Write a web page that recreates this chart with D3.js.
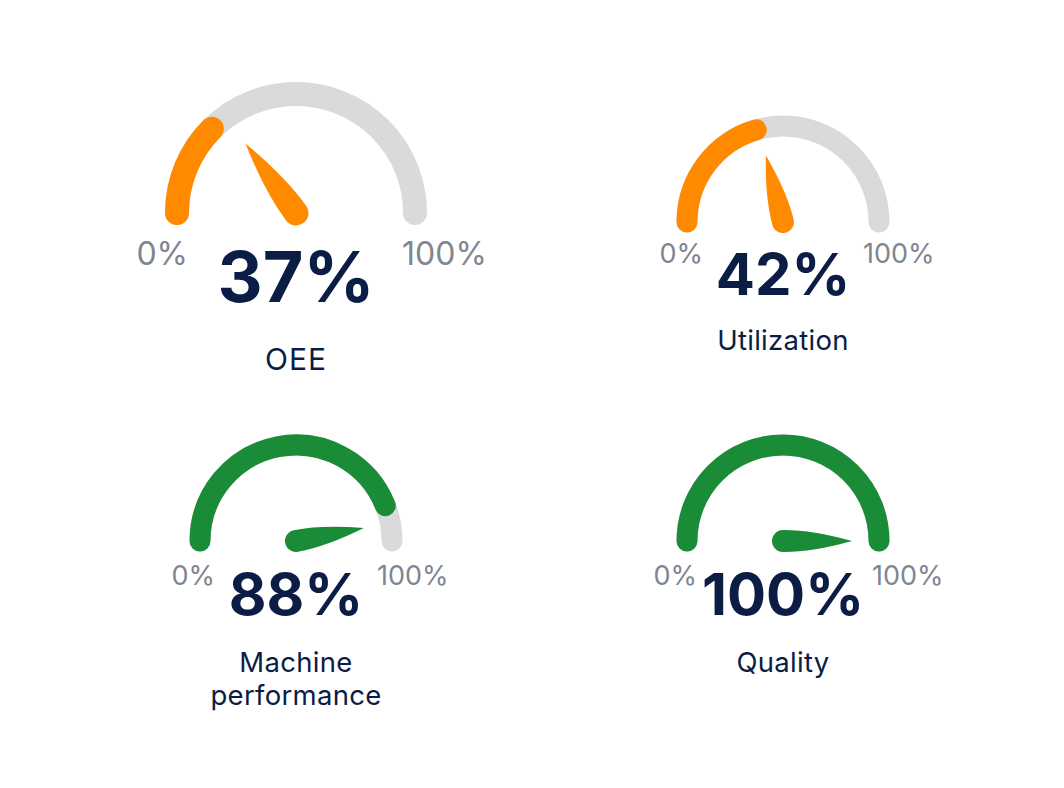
<!DOCTYPE html>
<html>
<head>
<meta charset="utf-8">
<script src="https://cdn.jsdelivr.net/npm/d3@7"></script>
<style>
  html, body { margin: 0; padding: 0; background: #ffffff; }
  svg { display: block; font-family: Inter, "Noto Sans", sans-serif; }
</style>
</head>
<body>
<svg id="chart" width="1064" height="788"></svg>
<script>
// ---- data ----
const titles = [["OEE"], ["Utilization"], ["Machine", "performance"], ["Quality"]];
const values = [37, 42, 88, 100];          // displayed value (%)
const fillValues = [25, 41, 88, 100];      // extent of the coloured arc as drawn (%)
const needleValues = [30, 42, 94, 100];    // needle position as drawn (%)
const minLabels = ["0%", "0%", "0%", "0%"];
const maxLabels = ["100%", "100%", "100%", "100%"];

// ---- layout / style (not data) ----
const layout = [
  { cx: 296, cy: 213, r: 119, sw: 24, nl: 86, nw: 12.5, vFont: 70, sFont: 32, tFont: 30, tLs: 1,
    sDy: 52, vDy: 89, tDy: 157, lOff: 108, rOff: 106, tLine: 33 },
  { cx: 783, cy: 222, r: 96, sw: 21, nl: 69, nw: 11, vFont: 58, sFont: 27, tFont: 27.5, tLs: 0.3,
    sDy: 41, vDy: 73, tDy: 128, lOff: 80, rOff: 80, tLine: 33 },
  { cx: 296, cy: 541, r: 96, sw: 21, nl: 69, nw: 11, vFont: 58, sFont: 27, tFont: 27.5, tLs: 0.3,
    sDy: 44, vDy: 74, tDy: 131, lOff: 81, rOff: 81, tLine: 33 },
  { cx: 783, cy: 541, r: 96, sw: 21, nl: 69, nw: 11, vFont: 58, sFont: 27, tFont: 27.5, tLs: 0.3,
    sDy: 44, vDy: 74, tDy: 131, lOff: 86, rOff: 89, tLine: 33 }
];
const trackColor = "#dadada";
const valueColor = "#0b1d45";
const tickColor = "#80858f";
const colorScale = d3.scaleThreshold().domain([50]).range(["#ff8a00", "#1a8c37"]);

// value (%) -> angle in degrees from 12 o'clock, clockwise
const angleScale = d3.scaleLinear().domain([0, 100]).range([-90, 90]).clamp(true);
const toRad = deg => (deg - 90) * Math.PI / 180;   // svg/canvas angle

const svg = d3.select("#chart");

function arcPath(r, v0, v1) {
  const p = d3.path();
  p.arc(0, 0, r, toRad(angleScale(v0)), toRad(angleScale(v1)), false);
  return p.toString();
}

function needlePath(L, w) {
  // teardrop pointing along +x, round base centred at origin
  const p = d3.path();
  p.moveTo(L, 0);
  p.quadraticCurveTo(L * 0.42, -w * 1.02, 0, -w);
  p.arc(0, 0, w, -Math.PI / 2, Math.PI / 2, true);
  p.quadraticCurveTo(L * 0.42, w * 1.02, L, 0);
  p.closePath();
  return p.toString();
}

titles.forEach((t, i) => {
  const L = layout[i];
  const col = colorScale(values[i]);
  const g = svg.append("g").attr("transform", `translate(${L.cx},${L.cy})`);

  // track
  g.append("path")
    .attr("d", arcPath(L.r, 0, 100))
    .attr("fill", "none")
    .attr("stroke", trackColor)
    .attr("stroke-width", L.sw)
    .attr("stroke-linecap", "round");

  // value arc
  g.append("path")
    .attr("d", arcPath(L.r, 0, fillValues[i]))
    .attr("fill", "none")
    .attr("stroke", col)
    .attr("stroke-width", L.sw)
    .attr("stroke-linecap", "round");

  // needle
  g.append("path")
    .attr("d", needlePath(L.nl, L.nw))
    .attr("fill", col)
    .attr("transform", `rotate(${angleScale(needleValues[i]) - 90})`);

  // min / max labels
  g.append("text")
    .attr("x", -L.lOff).attr("y", L.sDy)
    .attr("text-anchor", "end")
    .attr("font-size", L.sFont)
    .attr("fill", tickColor)
    .text(minLabels[i]);
  g.append("text")
    .attr("x", L.rOff).attr("y", L.sDy)
    .attr("text-anchor", "start")
    .attr("font-size", L.sFont)
    .attr("fill", tickColor)
    .text(maxLabels[i]);

  // value
  g.append("text")
    .attr("x", 0).attr("y", L.vDy)
    .attr("text-anchor", "middle")
    .attr("font-size", L.vFont)
    .attr("font-weight", 700)
    .attr("fill", valueColor)
    .text(values[i] + "%");

  // title
  const tt = g.append("text")
    .attr("text-anchor", "middle")
    .attr("font-size", L.tFont)
    .attr("letter-spacing", L.tLs)
    .attr("fill", valueColor);
  t.forEach((line, j) => {
    tt.append("tspan").attr("x", 0).attr("y", L.tDy + j * L.tLine).text(line);
  });
});
</script>
</body>
</html>
